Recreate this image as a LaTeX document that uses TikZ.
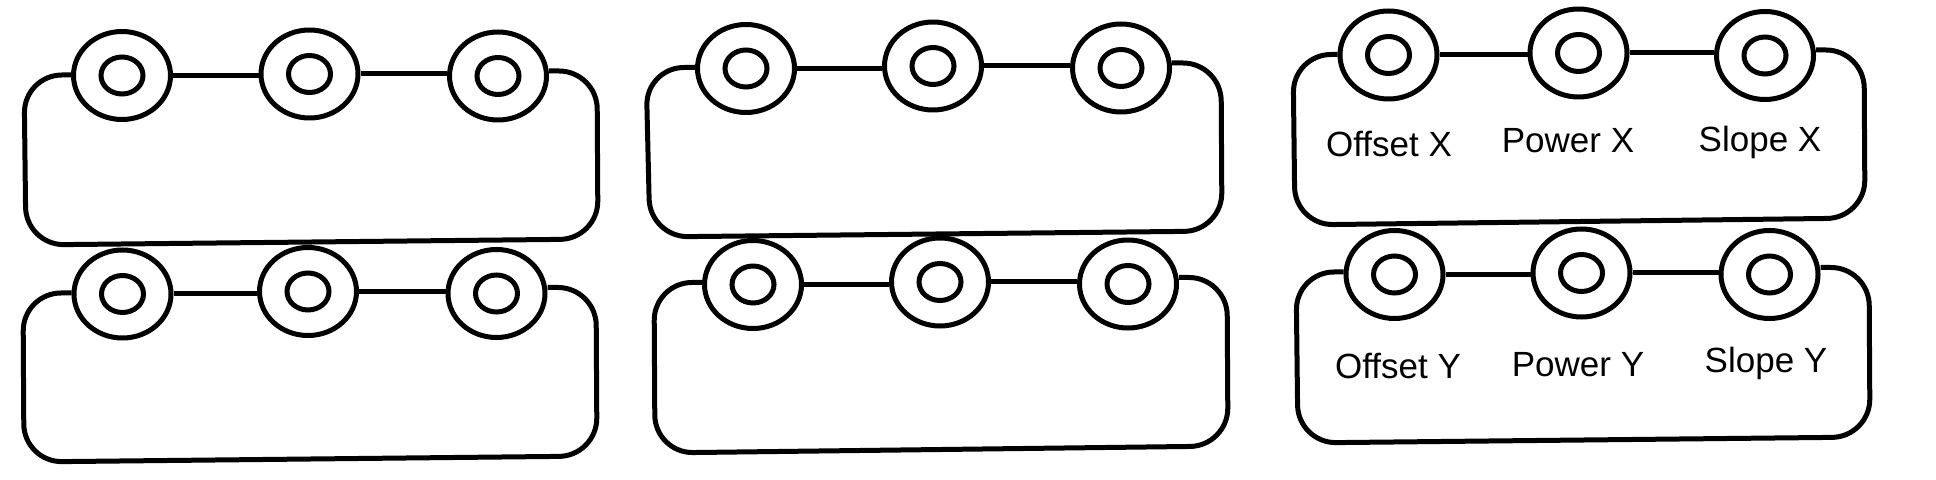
\documentclass[tikz,border=0pt]{standalone}
\usepackage{fontspec}
\setmainfont{Liberation Sans}
\usetikzlibrary{shapes.geometric}
\begin{document}
\begin{tikzpicture}[x=0.5pt,y=-0.5pt,
  ring/.style={ellipse,draw,line width=2.5pt,fill=white,minimum width=48.5pt,minimum height=44pt,inner sep=0pt},
  hole/.style={ellipse,draw,line width=2.5pt,fill=white,minimum width=21pt,minimum height=18.5pt,inner sep=0pt},
  boxline/.style={line width=2.5pt,rounded corners=19pt,line join=round},
  link/.style={line width=2.5pt},
  lbl/.style={font=\fontsize{17.5}{21}\selectfont,anchor=base,inner sep=0pt}]
\useasboundingbox (0,0) rectangle (1936,480);

% ---------- Unit A (panel 1, upper)
\node[ring] (A1) at (122,75.5) {}; \node[hole] (A1h) at (A1.center) {};
\node[ring] (A2) at (309.5,74) {}; \node[hole] (A2h) at (A2.center) {};
\node[ring] (A3) at (498,76) {}; \node[hole] (A3h) at (A3.center) {};
\coordinate (Atl) at (24,75); \coordinate (Abl) at (26,245);
\coordinate (Abr) at (598,239); \coordinate (Atr) at (597,71);
\draw[link] (A1.east) -- (A1.east -| A2.west);
\draw[link] (A2.east) -- (A2.east -| A3.west);
\draw[boxline] (A1.west |- Atl) -- (Atl) -- (Abl) -- (Abr) -- (Atr) -- (A3.east |- Atr);

% ---------- Unit C (panel 2, upper)
\node[ring] (C1) at (746,68.5) {}; \node[hole] (C1h) at (C1.center) {};
\node[ring] (C2) at (933,66) {}; \node[hole] (C2h) at (C2.center) {};
\node[ring] (C3) at (1121,68) {}; \node[hole] (C3h) at (C3.center) {};
\coordinate (Ctl) at (646,67.5); \coordinate (Cbl) at (650,237);
\coordinate (Cbr) at (1222,231); \coordinate (Ctr) at (1221,63);
\draw[link] (C1.east) -- (C1.east -| C2.west);
\draw[link] (C2.east) -- (C2.east -| C3.west);
\draw[boxline] (C1.west |- Ctl) -- (Ctl) -- (Cbl) -- (Cbr) -- (Ctr) -- (C3.east |- Ctr);

% ---------- Unit E (panel 3, upper)
\node[ring] (E1) at (1388.5,55) {}; \node[hole] (E1h) at (E1.center) {};
\node[ring] (E2) at (1578.5,53) {}; \node[hole] (E2h) at (E2.center) {};
\node[ring] (E3) at (1765,55.5) {}; \node[hole] (E3h) at (E3.center) {};
\coordinate (Etl) at (1293,54.5); \coordinate (Ebl) at (1295,225);
\coordinate (Ebr) at (1865,218); \coordinate (Etr) at (1864,50);
\draw[link] (E1.east) -- (E1.east -| E2.west);
\draw[link] (E2.east) -- (E2.east -| E3.west);
\draw[boxline] (E1.west |- Etl) -- (Etl) -- (Ebl) -- (Ebr) -- (Etr) -- (E3.east |- Etr);
\node[lbl] (ox) at (1389,157) {Offset X};
\node[lbl] (px) at (1568,153) {Power X};
\node[lbl] (sx) at (1760,152) {Slope X};

% ---------- Unit B (panel 1, lower)
\node[ring] (B1) at (122.5,294) {}; \node[hole] (B1h) at (B1.center) {};
\node[ring] (B2) at (308,291.5) {}; \node[hole] (B2h) at (B2.center) {};
\node[ring] (B3) at (496.5,293.5) {}; \node[hole] (B3h) at (B3.center) {};
\coordinate (Btl) at (23,293); \coordinate (Bbl) at (24,462);
\coordinate (Bbr) at (597,456); \coordinate (Btr) at (596,287.5);
\draw[link] (B1.east) -- (B1.east -| B2.west);
\draw[link] (B2.east) -- (B2.east -| B3.west);
\draw[boxline] (B1.west |- Btl) -- (Btl) -- (Bbl) -- (Bbr) -- (Btr) -- (B3.east |- Btr);

% ---------- Unit D (panel 2, lower)
\node[ring] (D1) at (753,284.5) {}; \node[hole] (D1h) at (D1.center) {};
\node[ring] (D2) at (940,282) {}; \node[hole] (D2h) at (D2.center) {};
\node[ring] (D3) at (1128,284) {}; \node[hole] (D3h) at (D3.center) {};
\coordinate (Dtl) at (654,282.5); \coordinate (Dbl) at (655,453);
\coordinate (Dbr) at (1228,446); \coordinate (Dtr) at (1227,277.5);
\draw[link] (D1.east) -- (D1.east -| D2.west);
\draw[link] (D2.east) -- (D2.east -| D3.west);
\draw[boxline] (D1.west |- Dtl) -- (Dtl) -- (Dbl) -- (Dbr) -- (Dtr) -- (D3.east |- Dtr);

% ---------- Unit F (panel 3, lower)
\node[ring] (F1) at (1394.5,274.5) {}; \node[hole] (F1h) at (F1.center) {};
\node[ring] (F2) at (1581.5,273) {}; \node[hole] (F2h) at (F2.center) {};
\node[ring] (F3) at (1769.5,274.5) {}; \node[hole] (F3h) at (F3.center) {};
\coordinate (Ftl) at (1296,272); \coordinate (Fbl) at (1298,443);
\coordinate (Fbr) at (1870,437); \coordinate (Ftr) at (1869,267.5);
\draw[link] (F1.east) -- (F1.east -| F2.west);
\draw[link] (F2.east) -- (F2.east -| F3.west);
\draw[boxline] (F1.west |- Ftl) -- (Ftl) -- (Fbl) -- (Fbr) -- (Ftr) -- (F3.east |- Ftr);
\node[lbl] (oy) at (1398,379) {Offset Y};
\node[lbl] (py) at (1578,376) {Power Y};
\node[lbl] (sy) at (1766,372) {Slope Y};
\end{tikzpicture}
\end{document}
